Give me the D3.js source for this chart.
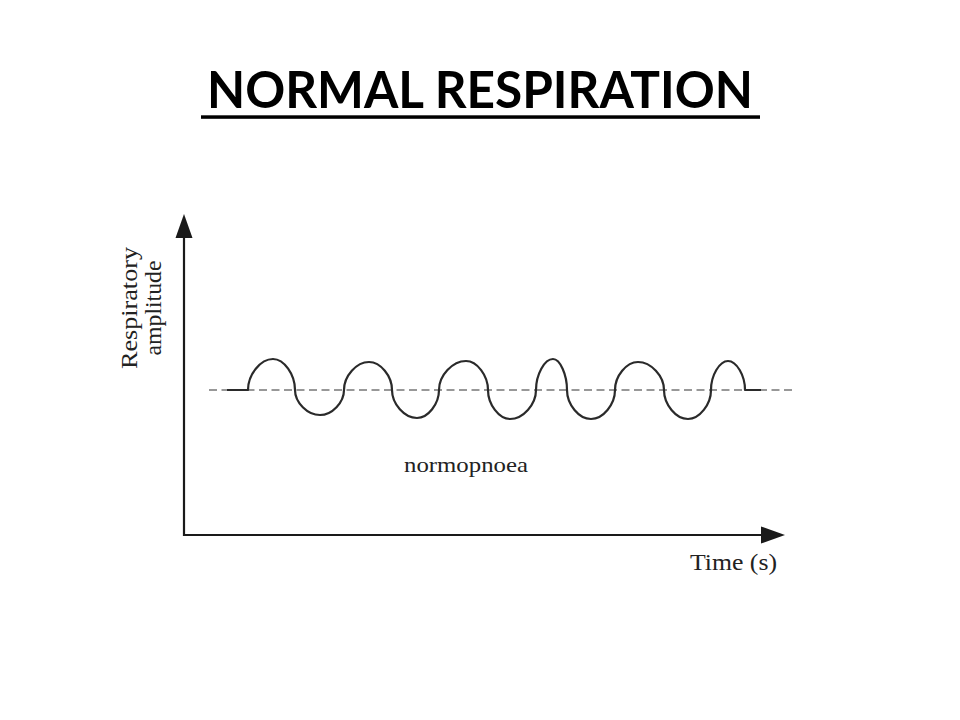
<!DOCTYPE html>
<html>
<head>
<meta charset="utf-8">
<script src="https://cdn.jsdelivr.net/npm/d3@7"></script>
<style>
  body { margin: 0; background: #fff; }
</style>
</head>
<body>
<svg id="chart" width="960" height="720"></svg>
<script>
// données (temps et amplitude en unités arbitraires)
const title = "NORMAL RESPIRATION";
const yLabel = ["Respiratory", "amplitude"];
const xLabel = "Time (s)";
const patternLabel = "normopnoea";

// chaque demi-oscillation : début, fin, position de l'extremum, amplitude
const lobeStart = [64, 111, 160, 208, 255, 304, 352, 383, 431, 480, 527];
const lobeEnd   = [111, 160, 208, 255, 304, 352, 383, 431, 480, 527, 561];
const lobePeak  = [89, 136, 185, 233, 282, 326, 369, 407, 454, 504, 544];
const lobeAmp   = [31, -25, 28, -28, 29, -29, 31, -29, 28, -29, 29];

// paliers plats au début et à la fin
const flatStart = [43, 64];
const flatEnd = [561, 577];
// ligne de base pointillée
const baseline = [25, 610];

const width = 960, height = 720;

// axes : origine en bas à gauche, flèches au bout
const x = d3.scaleLinear().domain([0, 601]).range([184, 785]);
const y = d3.scaleLinear().domain([-145, 176]).range([535, 214]);

const svg = d3.select("#chart");

// titre souligné
svg.append("text")
  .attr("x", 480).attr("y", 108)
  .attr("text-anchor", "middle")
  .attr("font-family", "Lato, 'Open Sans', sans-serif")
  .attr("font-weight", 700)
  .attr("font-size", 51)
  .attr("textLength", 546)
  .attr("lengthAdjust", "spacingAndGlyphs")
  .attr("fill", "#000")
  .text(title);

svg.append("rect")
  .attr("x", 201).attr("y", 115.3)
  .attr("width", 559).attr("height", 3.5)
  .attr("fill", "#000");

const axisColor = "#1a1a1a";

// axe vertical
svg.append("line")
  .attr("x1", x(0)).attr("x2", x(0))
  .attr("y1", y(-145) + 1).attr("y2", y(176) + 20)
  .attr("stroke", axisColor).attr("stroke-width", 2.2);

svg.append("path")
  .attr("d", `M${x(0)},${y(176)} L${x(0) - 8.5},${y(176) + 24} L${x(0) + 8.5},${y(176) + 24} Z`)
  .attr("fill", axisColor);

// axe horizontal
svg.append("line")
  .attr("x1", x(0) - 1).attr("x2", x(601) - 20)
  .attr("y1", y(-145)).attr("y2", y(-145))
  .attr("stroke", axisColor).attr("stroke-width", 2.2);

svg.append("path")
  .attr("d", `M${x(601)},${y(-145)} L${x(601) - 24},${y(-145) - 8.5} L${x(601) - 24},${y(-145) + 8.5} Z`)
  .attr("fill", axisColor);

// étiquette de l'axe y (deux lignes, tournées)
const ylab = svg.append("text")
  .attr("transform", "translate(137,308) rotate(-90)")
  .attr("text-anchor", "middle")
  .attr("font-family", "'Liberation Serif', 'Times New Roman', serif")
  .attr("font-size", 24)
  .attr("fill", "#222");

ylab.append("tspan").attr("x", 0).attr("y", 0)
  .attr("textLength", 122).attr("lengthAdjust", "spacingAndGlyphs")
  .text(yLabel[0]);
ylab.append("tspan").attr("x", 0).attr("y", 24)
  .attr("textLength", 95).attr("lengthAdjust", "spacingAndGlyphs")
  .text(yLabel[1]);

// étiquette de l'axe x
svg.append("text")
  .attr("x", 690).attr("y", 570)
  .attr("font-family", "'Liberation Serif', 'Times New Roman', serif")
  .attr("font-size", 24)
  .attr("textLength", 87)
  .attr("lengthAdjust", "spacingAndGlyphs")
  .attr("fill", "#222")
  .text(xLabel);

// nom du rythme
svg.append("text")
  .attr("x", 404).attr("y", 472)
  .attr("font-family", "'Liberation Serif', 'Times New Roman', serif")
  .attr("font-size", 21)
  .attr("textLength", 124)
  .attr("lengthAdjust", "spacingAndGlyphs")
  .attr("fill", "#222")
  .text(patternLabel);

// ligne de base pointillée
svg.append("line")
  .attr("x1", x(baseline[0])).attr("x2", x(baseline[1]))
  .attr("y1", y(0)).attr("y2", y(0))
  .attr("stroke", "#777")
  .attr("stroke-width", 1.5)
  .attr("stroke-dasharray", "8,4.5");

// tracé respiratoire : paliers + demi-ellipses arrondies
function lobePath(p, i) {
  const x0 = x(lobeStart[i]), x1 = x(lobeEnd[i]), xp = x(lobePeak[i]);
  const y0 = y(0), yp = y(lobeAmp[i]);
  const k = 0.5;
  p.bezierCurveTo(x0, y0 + (yp - y0) * k, xp - (xp - x0) * k, yp, xp, yp);
  p.bezierCurveTo(xp + (x1 - xp) * k, yp, x1, y0 + (yp - y0) * k, x1, y0);
}

const p = d3.path();
p.moveTo(x(flatStart[0]), y(0));
p.lineTo(x(flatStart[1]), y(0));
lobeStart.forEach((d, i) => lobePath(p, i));
p.lineTo(x(flatEnd[1]), y(0));

svg.append("path")
  .attr("d", p.toString())
  .attr("fill", "none")
  .attr("stroke", "#2a2a2a")
  .attr("stroke-width", 2.2)
  .attr("stroke-linejoin", "round");
</script>
</body>
</html>
